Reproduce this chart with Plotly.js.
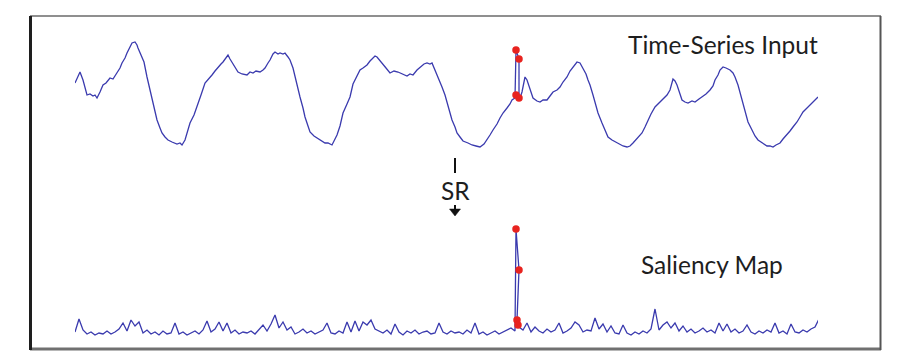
<!DOCTYPE html>
<html>
<head>
<meta charset="utf-8">
<script src="https://cdn.plot.ly/plotly-3.0.1.min.js"></script>
<style>html,body{margin:0;padding:0;background:#fff;}#chart{width:905px;height:359px;}</style>
</head>
<body>
<div id="chart"></div>
<script>
// ---- Data (time index, value) ----
const inputT = [0,3,5,8,12,15,18,20,22,25,28,31,35,38,42,45,47,50,52,55,57,60,62,63,67,69,72,75,77,80,82,85,87,90,93,97,102,105,107,110,113,115,119,122,126,130,133,137,140,143,146,148,151,153,155,157,160,163,167,172,175,178,181,185,188,190,193,195,198,200,203,205,208,210,213,215,218,220,223,225,228,230,233,235,239,242,246,250,253,257,259,262,265,268,272,275,278,282,285,288,292,295,298,300,302,305,307,311,315,319,323,327,332,335,338,342,345,349,352,355,357,360,362,365,367,370,372,375,377,380,382,385,388,393,397,401,405,409,412,415,418,422,425,428,432,435,437,440,441,444,444,445,447,449,450,452,453,456,458,462,465,468,472,475,478,482,485,488,492,495,498,500,502,505,508,511,513,515,518,520,523,527,530,533,537,542,545,548,552,555,558,562,567,570,573,576,580,584,588,592,595,597,598,600,602,605,607,610,613,617,620,624,627,631,635,638,640,643,645,648,651,655,658,660,663,665,668,670,673,677,680,683,687,692,695,698,701,705,708,712,715,718,722,725,728,732,735,738,741,743];
const inputV = [77,84,88,80,65,66,64,65,62,68,75,77,82,81,87,92,97,102,107,114,117,118,115,112,103,98,83,70,60,48,40,32,27,23,20,18,16,17,15,20,30,37,45,53,65,77,80,85,89,93,96,98,102,105,101,98,93,88,86,85,88,87,89,88,90,92,97,100,106,108,106,107,106,107,103,100,92,83,72,63,52,43,34,28,24,22,19,17,17,15,19,25,34,47,56,63,76,84,90,92,95,99,102,104,103,99,97,92,87,89,88,86,84,86,85,90,93,96,97,96,97,90,85,79,73,65,57,47,40,33,27,23,19,17,15,14,13,16,20,25,30,36,42,47,52,56,60,62,110,101,65,62,68,80,83,80,77,68,62,59,58,60,60,64,68,70,73,78,83,89,93,96,98,97,92,86,80,75,65,57,47,37,29,23,20,17,16,14,13,14,17,21,27,33,40,46,53,57,60,65,70,76,81,79,75,66,60,58,57,59,58,61,63,66,70,74,80,85,90,93,92,90,87,83,75,67,56,47,38,30,24,20,17,14,14,13,15,17,21,25,29,33,38,43,48,52,55,58,61,63];
const inputAnomT = [441,444,441,444];
const inputAnomV = [110,101,65,62];

const salStep = 4; // regular sampling interval of the saliency map
const salV = [5,18,7,3,5,2,4,3,6,3,5,8,14,6,17,11,15,4,7,3,5,2,6,3,4,14,3,5,2,4,6,3,7,16,5,8,15,6,14,4,7,3,5,4,6,3,8,12,6,13,22,9,15,7,10,3,5,8,4,6,3,5,7,14,4,3,6,4,15,5,16,6,15,12,17,8,6,4,7,3,13,5,2,6,4,7,3,5,6,3,4,14,5,3,6,4,5,3,7,4,14,3,5,2,4,6,3,5,7,9,6,10,7,14,5,10,6,4,8,5,7,14,4,6,9,15,12,5,7,6,19,8,13,5,11,4,3,12,4,2,5,3,6,4,8,28,7,12,15,9,14,6,11,5,8,4,6,9,5,7,4,14,6,13,5,8,4,6,12,5,3,6,4,7,5,14,4,6,3,13,5,4,7,5,8,10,18];
const salSpikeT = [441,444,442,443];
const salSpikeV = [108,67,17,12];

// ---- build series ----
const salT0 = salV.map((_, i) => i * salStep);
const salT = [], salY = [];
let inserted = false;
for (let i = 0; i < salT0.length; i++) {
  if (!inserted && salT0[i] > salSpikeT[0]) {
    for (let j = 0; j < salSpikeT.length; j++) { salT.push(salSpikeT[j]); salY.push(salSpikeV[j]); }
    inserted = true;
  }
  salT.push(salT0[i]); salY.push(salV[i]);
}

const W = 905, H = 359, ML = 75, MR = 87;
const PW = W - ML - MR;
const px = x => (x - ML) / PW;
const py = y => (H - y) / H;

const blue = '#3a3aae', red = '#e8231f';
const traces = [
  {x: inputT, y: inputV, type: 'scatter', mode: 'lines', line: {color: blue, width: 1.3}, xaxis: 'x', yaxis: 'y', hoverinfo: 'skip'},
  {x: inputAnomT, y: inputAnomV, type: 'scatter', mode: 'markers', marker: {color: red, size: 7.5}, xaxis: 'x', yaxis: 'y', hoverinfo: 'skip'},
  {x: salT, y: salY, type: 'scatter', mode: 'lines', line: {color: blue, width: 1.3}, xaxis: 'x', yaxis: 'y2', hoverinfo: 'skip'},
  {x: salSpikeT, y: salSpikeV, type: 'scatter', mode: 'markers', marker: {color: red, size: 7.5}, xaxis: 'x', yaxis: 'y2', hoverinfo: 'skip'}
];

const ax = {showgrid: false, zeroline: false, showticklabels: false, ticks: '', showline: false, fixedrange: true};
const font = {family: 'Lato, "Open Sans", sans-serif', size: 24.5, color: '#1e1e1e'};

const layout = {
  width: W, height: H,
  margin: {l: ML, r: MR, t: 0, b: 0},
  paper_bgcolor: '#fff', plot_bgcolor: 'rgba(0,0,0,0)',
  showlegend: false,
  xaxis: Object.assign({}, ax, {range: [0, 743]}),
  yaxis: Object.assign({}, ax, {range: [0, 140], domain: [py(160), py(20)]}),
  yaxis2: Object.assign({}, ax, {range: [-3, 137], domain: [py(340), py(200)]}),
  shapes: [
    {type: 'line', xref: 'paper', yref: 'paper', x0: px(30), x1: px(881), y0: py(16), y1: py(16), line: {color: '#6a6a6a', width: 1.5}},
    {type: 'line', xref: 'paper', yref: 'paper', x0: px(30), x1: px(881), y0: py(349), y1: py(349), line: {color: '#707070', width: 3}},
    {type: 'line', xref: 'paper', yref: 'paper', x0: px(30.5), x1: px(30.5), y0: py(16), y1: py(350), line: {color: '#1e1e1e', width: 3}},
    {type: 'line', xref: 'paper', yref: 'paper', x0: px(880.5), x1: px(880.5), y0: py(16), y1: py(350), line: {color: '#555', width: 2}},
    {type: 'line', xref: 'paper', yref: 'paper', x0: px(455), x1: px(455), y0: py(158), y1: py(173), line: {color: '#111', width: 2}},
    {type: 'line', xref: 'paper', yref: 'paper', x0: px(455), x1: px(455), y0: py(205), y1: py(210), line: {color: '#111', width: 2}},
    {type: 'path', xref: 'paper', yref: 'paper',
     path: 'M ' + px(449.5) + ' ' + py(209) + ' L ' + px(460.5) + ' ' + py(209) + ' L ' + px(455) + ' ' + py(216) + ' Z',
     fillcolor: '#111', line: {color: '#111', width: 0.5}}
  ],
  annotations: [
    {text: 'Time-Series Input', xref: 'paper', yref: 'paper', x: px(723), y: py(44), xanchor: 'center', yanchor: 'middle', showarrow: false, font: font},
    {text: 'Saliency Map', xref: 'paper', yref: 'paper', x: px(712), y: py(264), xanchor: 'center', yanchor: 'middle', showarrow: false, font: font},
    {text: 'SR', xref: 'paper', yref: 'paper', x: px(455), y: py(190), xanchor: 'center', yanchor: 'middle', showarrow: false, font: font}
  ]
};

Plotly.newPlot('chart', traces, layout, {displayModeBar: false, staticPlot: true});
</script>
</body>
</html>
